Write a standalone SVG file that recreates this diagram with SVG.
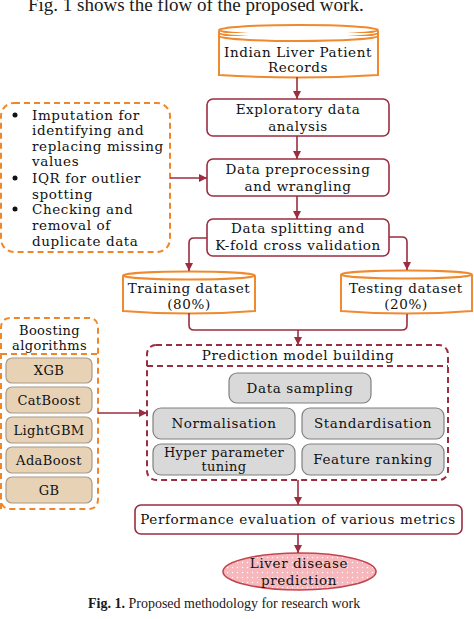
<svg xmlns="http://www.w3.org/2000/svg" width="474" height="619" viewBox="0 0 474 619">
<style>
.t{font-family:"DejaVu Serif","Liberation Serif",serif;font-size:13.5px;fill:#111;letter-spacing:0.6px}
.tm{text-anchor:middle}
.sm{font-size:13px;letter-spacing:0.4px}
.box{fill:#fff;stroke:#9b2d40;stroke-width:1.6}
.cyl{fill:#fff;stroke:#ef8a2f;stroke-width:2}
.odash{fill:none;stroke:#f0862a;stroke-width:2;stroke-dasharray:6,4}
.rdash{fill:none;stroke:#9b2d40;stroke-width:2;stroke-dasharray:6,4}
.gray{fill:#d9d9d9;stroke:#808080;stroke-width:1.2}
.tan{fill:#e8d2b6;stroke:#a89a86;stroke-width:1.2}
.con{fill:none;stroke:#9b2d40;stroke-width:1.6}
.ser{font-family:"Liberation Serif",serif;fill:#1a1a1a}
</style>
<defs>
<marker id="ah" markerUnits="userSpaceOnUse" markerWidth="9" markerHeight="9" refX="8" refY="4" orient="auto">
<path d="M0,0 L8,4 L0,8 Z" fill="#9b2d40"/>
</marker>
<pattern id="dots" width="5" height="5" patternUnits="userSpaceOnUse">
<rect width="5" height="5" fill="#f6b8bc"/>
<circle cx="2.5" cy="2.5" r="0.7" fill="#fff"/>
</pattern>
</defs>
<rect width="474" height="619" fill="#fff"/>
<text class="ser" x="28" y="11" font-size="19">Fig. 1 shows the flow of the proposed work.</text>

<g id="indian">
<path class="cyl" d="M219,31 V75 Q298,80 378,75 V31"/>
<ellipse class="cyl" cx="298.5" cy="30" rx="79.5" ry="5"/>
<path class="cyl" d="M219,33 A79.5,5 0 0 0 378,33" stroke-width="1.6"/>
<path class="cyl" d="M219,36 A79.5,5 0 0 0 378,36" stroke-width="1.6"/>
<text class="t tm" x="298" y="57">Indian Liver Patient</text>
<text class="t tm" x="298" y="72">Records</text>
</g>

<g id="eda">
<rect class="box" x="207" y="99" width="182" height="37" rx="6"/>
<text class="t tm" x="298" y="114">Exploratory data</text>
<text class="t tm" x="298" y="131">analysis</text>
</g>

<g id="prep">
<rect class="box" x="207" y="159" width="182" height="37" rx="6"/>
<text class="t tm" x="298" y="174">Data preprocessing</text>
<text class="t tm" x="298" y="191">and wrangling</text>
</g>

<g id="split">
<rect class="box" x="207" y="219" width="182" height="37" rx="6"/>
<text class="t tm" x="298" y="233">Data splitting and</text>
<text class="t tm" x="298" y="250">K-fold cross validation</text>
</g>

<g id="cleaning">
<rect class="odash" x="1" y="103" width="169" height="149" rx="13"/>
<g class="t">
<circle cx="15" cy="115" r="2.5" fill="#111"/>
<text x="32" y="120">Imputation for</text>
<text x="32" y="135">identifying and</text>
<text x="32" y="151">replacing missing</text>
<text x="32" y="166">values</text>
<circle cx="15" cy="178" r="2.5" fill="#111"/>
<text x="32" y="183">IQR for outlier</text>
<text x="32" y="199">spotting</text>
<circle cx="15" cy="209" r="2.5" fill="#111"/>
<text x="32" y="214">Checking and</text>
<text x="32" y="230">removal of</text>
<text x="32" y="246">duplicate data</text>
</g>
</g>

<g id="training">
<path class="cyl" d="M123,276 V311 Q189,316 255,311 V276"/>
<ellipse class="cyl" cx="189" cy="275.5" rx="66" ry="4"/>
<text class="t tm" x="189" y="293">Training dataset</text>
<text class="t tm" x="189" y="309">(80%)</text>
</g>

<g id="testing">
<path class="cyl" d="M341,275 V311 Q406.5,316 472,311 V275"/>
<ellipse class="cyl" cx="406.5" cy="274.5" rx="65.5" ry="4"/>
<text class="t tm" x="406" y="293">Testing dataset</text>
<text class="t tm" x="406" y="309">(20%)</text>
</g>

<g id="boosting">
<path class="odash" d="M1,509 V328 Q1,318 11,318 H88 Q98,318 98,328 V499 Q98,509 88,509 H11 Q1,509 1,499"/>
<line class="odash" x1="1" y1="354" x2="98" y2="354"/>
<text class="t tm sm" x="49.5" y="335">Boosting</text>
<text class="t tm sm" x="49.5" y="350">algorithms</text>
<rect class="tan" x="6" y="358" width="86" height="25" rx="6"/>
<text class="t tm sm" x="49" y="375">XGB</text>
<rect class="tan" x="6" y="387" width="86" height="26" rx="6"/>
<text class="t tm sm" x="49" y="405">CatBoost</text>
<rect class="tan" x="6" y="417" width="86" height="26" rx="6"/>
<text class="t tm sm" x="49" y="435">LightGBM</text>
<rect class="tan" x="6" y="447" width="86" height="26" rx="6"/>
<text class="t tm sm" x="49" y="465">AdaBoost</text>
<rect class="tan" x="6" y="477" width="86" height="26" rx="6"/>
<text class="t tm sm" x="49" y="495">GB</text>
</g>

<g id="model">
<rect class="rdash" x="147" y="345" width="301" height="135" rx="9"/>
<line class="rdash" x1="147" y1="366" x2="448" y2="366"/>
<text class="t tm" x="298" y="360">Prediction model building</text>
<rect class="gray" x="229" y="373" width="142" height="30" rx="8"/>
<text class="t tm" x="300" y="393">Data sampling</text>
<rect class="gray" x="153" y="408" width="142" height="31" rx="8"/>
<text class="t tm" x="224" y="428">Normalisation</text>
<rect class="gray" x="302" y="408" width="142" height="31" rx="8"/>
<text class="t tm" x="373" y="428">Standardisation</text>
<rect class="gray" x="153" y="444" width="142" height="31" rx="8"/>
<text class="t tm sm" x="224" y="457">Hyper parameter</text>
<text class="t tm sm" x="224" y="471">tuning</text>
<rect class="gray" x="302" y="444" width="142" height="31" rx="8"/>
<text class="t tm" x="373" y="464">Feature ranking</text>
</g>

<g id="perf">
<rect class="box" x="135" y="505" width="327" height="29" rx="6"/>
<text class="t tm" x="298" y="524">Performance evaluation of various metrics</text>
</g>

<g id="result">
<ellipse cx="299.5" cy="571.5" rx="76.5" ry="18.5" fill="url(#dots)" stroke="#c4454f" stroke-width="1.6"/>
<text class="t tm" x="299" y="568">Liver disease</text>
<text class="t tm" x="299" y="585">prediction</text>
</g>

<g id="connectors">
<path class="con" d="M297,77 V99" marker-end="url(#ah)"/>
<path class="con" d="M297,136 V159" marker-end="url(#ah)"/>
<path class="con" d="M297,196 V219" marker-end="url(#ah)"/>
<path class="con" d="M207,238 H194 Q189,238 189,243 V271" marker-end="url(#ah)"/>
<path class="con" d="M389,237 H402 Q407,237 407,242 V270" marker-end="url(#ah)"/>
<path class="con" d="M189,313 V325 Q189,330 194,330 H402 Q407,330 407,325 V314"/>
<path class="con" d="M298,330 V345" marker-end="url(#ah)"/>
<path class="con" d="M170,178 H207" marker-end="url(#ah)"/>
<path class="con" d="M98,413 H147" marker-end="url(#ah)"/>
<path class="con" d="M298,480 V505" marker-end="url(#ah)"/>
<path class="con" d="M298,534 V553" marker-end="url(#ah)"/>
</g>

<text class="ser" x="88" y="608" font-size="14"><tspan font-weight="bold">Fig. 1.</tspan> Proposed methodology for research work</text>
</svg>
